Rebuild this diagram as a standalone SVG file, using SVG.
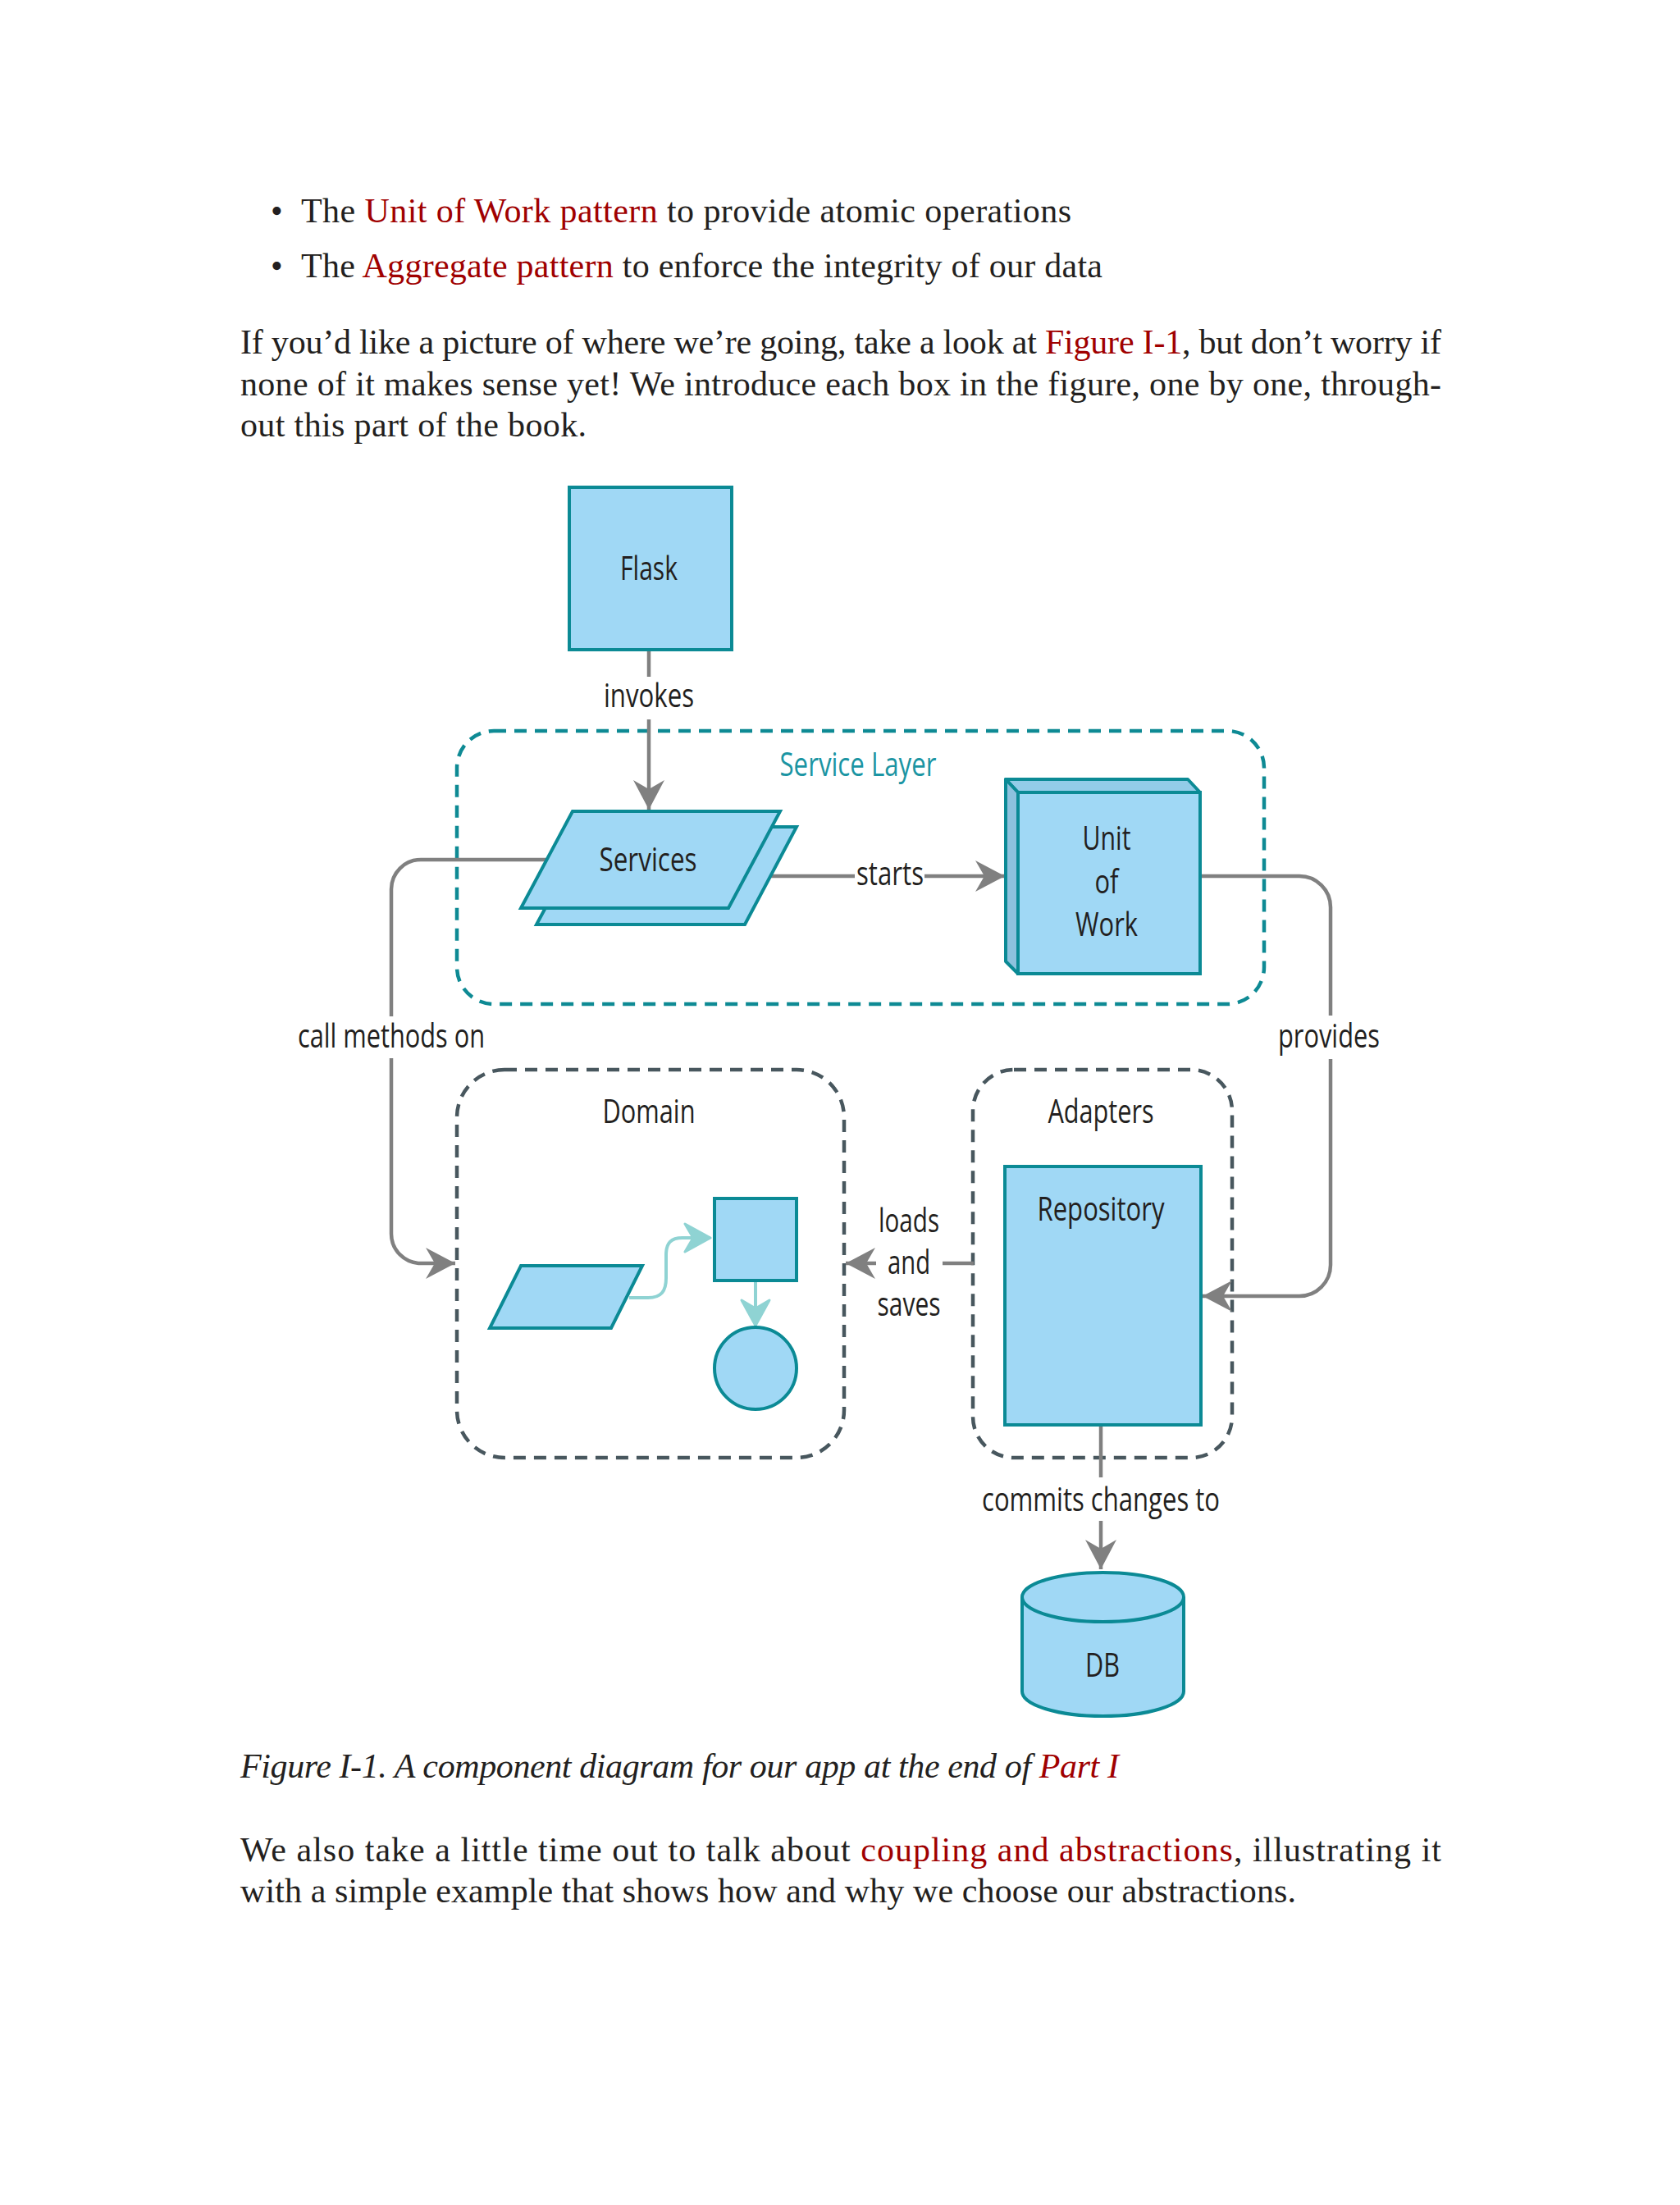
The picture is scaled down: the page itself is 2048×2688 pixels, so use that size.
<svg xmlns="http://www.w3.org/2000/svg" width="2048" height="2688" viewBox="0 0 2048 2688">
<style>
.body{font-family:"Liberation Serif","Times New Roman",serif;font-size:42px;fill:#231f20}
.it{font-style:italic}
.red{fill:#a00000}
.lbl{font-family:"Open Sans","Liberation Sans",sans-serif;font-size:40px;fill:#231f20;text-anchor:middle}
.node{fill:#a0d8f5;stroke:#0b8a95;stroke-width:4}
.conn{fill:none;stroke:#808080;stroke-width:4.5}
.connT{fill:none;stroke:#8fd3d3;stroke-width:4}
.dashT{fill:none;stroke:#0e8a94;stroke-width:4.5;stroke-dasharray:15 10}
.dashG{fill:none;stroke:#48575e;stroke-width:4.5;stroke-dasharray:15 10}
</style>
<defs>
<marker id="arr" viewBox="-38 -22 40 44" refX="0" refY="0" markerWidth="40" markerHeight="44" markerUnits="userSpaceOnUse" orient="auto">
<path d="M0,0 L-36,-19 L-25,0 L-36,19 Z" fill="#808080"/>
</marker>
<marker id="arrT" viewBox="-36 -22 40 44" refX="0" refY="0" markerWidth="40" markerHeight="44" markerUnits="userSpaceOnUse" orient="auto">
<path d="M0,0 L-31,-17 L-21,0 L-31,17 Z" fill="#8fd3d3" stroke="#8fd3d3" stroke-width="3" stroke-linejoin="round"/>
</marker>
</defs>
<rect width="2048" height="2688" fill="#ffffff"/>

<g id="text-top">
<text class="body" x="330" y="271">•</text>
<text class="body" x="367" y="271" textLength="939" lengthAdjust="spacing">The <tspan class="red">Unit of Work pattern</tspan> to provide atomic operations</text>
<text class="body" x="330" y="338">•</text>
<text class="body" x="367" y="338" textLength="977" lengthAdjust="spacing">The <tspan class="red">Aggregate pattern</tspan> to enforce the integrity of our data</text>
<text class="body" x="293" y="431" textLength="1464" lengthAdjust="spacing">If you’d like a picture of where we’re going, take a look at <tspan class="red">Figure I-1</tspan>, but don’t worry if</text>
<text class="body" x="293" y="482" textLength="1464" lengthAdjust="spacing">none of it makes sense yet! We introduce each box in the figure, one by one, through-</text>
<text class="body" x="293" y="532" textLength="422" lengthAdjust="spacing">out this part of the book.</text>
</g>

<g id="service-layer">
<rect class="dashT" x="557" y="891" width="984" height="333" rx="45"/>
<text class="lbl" x="1046" y="946" textLength="191" lengthAdjust="spacingAndGlyphs" style="fill:#1b95a3">Service Layer</text>
</g>
<g id="domain">
<rect class="dashG" x="557" y="1304" width="472" height="473" rx="58"/>
<text class="lbl" x="791" y="1369" textLength="113" lengthAdjust="spacingAndGlyphs">Domain</text>
</g>
<g id="adapters">
<rect class="dashG" x="1186" y="1304" width="316" height="473" rx="50"/>
<text class="lbl" x="1342" y="1369" textLength="129" lengthAdjust="spacingAndGlyphs">Adapters</text>
</g>

<g id="connectors">
<path class="conn" d="M791,792 L791,825"/>
<path class="conn" d="M791,877 L791,987" marker-end="url(#arr)"/>
<text class="lbl" x="791" y="862" textLength="110" lengthAdjust="spacingAndGlyphs">invokes</text>
<path class="conn" d="M939,1068 L1042,1068"/>
<path class="conn" d="M1127,1068 L1225,1068" marker-end="url(#arr)"/>
<text class="lbl" x="1085" y="1079" textLength="82" lengthAdjust="spacingAndGlyphs">starts</text>
<path class="conn" d="M666,1048 L513,1048 A36,36 0 0 0 477,1084 L477,1239"/>
<path class="conn" d="M477,1290 L477,1504 A36,36 0 0 0 513,1540 L555,1540" marker-end="url(#arr)"/>
<text class="lbl" x="477" y="1277" textLength="228" lengthAdjust="spacingAndGlyphs">call methods on</text>
<path class="conn" d="M1463,1068 L1584,1068 A38,38 0 0 1 1622,1106 L1622,1238"/>
<path class="conn" d="M1622,1291 L1622,1542 A38,38 0 0 1 1584,1580 L1466,1580" marker-end="url(#arr)"/>
<text class="lbl" x="1620" y="1277" textLength="124" lengthAdjust="spacingAndGlyphs">provides</text>
<path class="conn" d="M1187,1540 L1149,1540"/>
<path class="conn" d="M1068,1540 L1031,1540" marker-end="url(#arr)"/>
<text class="lbl" x="1108" y="1502" textLength="74" lengthAdjust="spacingAndGlyphs">loads</text>
<text class="lbl" x="1108" y="1553" textLength="52" lengthAdjust="spacingAndGlyphs">and</text>
<text class="lbl" x="1108" y="1604" textLength="77" lengthAdjust="spacingAndGlyphs">saves</text>
<path class="conn" d="M1342,1737 L1342,1801"/>
<path class="conn" d="M1342,1854 L1342,1913" marker-end="url(#arr)"/>
<text class="lbl" x="1342" y="1842" textLength="290" lengthAdjust="spacingAndGlyphs">commits changes to</text>
<path class="connT" d="M767,1582 L790,1582 C806,1582 812,1574 812,1558 L812,1530 C812,1515 818,1509 832,1509 L866,1509" marker-end="url(#arrT)"/>
<path class="connT" d="M921,1561 L921,1616" marker-end="url(#arrT)"/>
</g>

<g id="flask">
<rect class="node" x="694" y="594" width="198" height="198"/>
<text class="lbl" x="791" y="707" textLength="70" lengthAdjust="spacingAndGlyphs">Flask</text>
</g>

<g id="services">
<polygon class="node" points="718,1008 971,1008 908,1127 654,1127"/>
<polygon class="node" points="698,989 951,989 888,1107 635,1107"/>
<text class="lbl" x="790" y="1062" textLength="119" lengthAdjust="spacingAndGlyphs">Services</text>
</g>

<g id="unit-of-work">
<polygon points="1226,950 1448,950 1463,966 1241,966" fill="#93cce8" stroke="#0b8a95" stroke-width="4" stroke-linejoin="round"/>
<polygon points="1226,950 1241,966 1241,1187 1226,1172" fill="#8dc2de" stroke="#0b8a95" stroke-width="4" stroke-linejoin="round"/>
<rect class="node" x="1241" y="966" width="222" height="221"/>
<text class="lbl" x="1349" y="1036" textLength="59" lengthAdjust="spacingAndGlyphs">Unit</text>
<text class="lbl" x="1349" y="1089" textLength="29" lengthAdjust="spacingAndGlyphs">of</text>
<text class="lbl" x="1349" y="1141" textLength="76" lengthAdjust="spacingAndGlyphs">Work</text>
</g>

<g id="domain-shapes">
<polygon class="node" points="635,1543 783,1543 745,1619 597,1619"/>
<rect class="node" x="871" y="1461" width="100" height="100"/>
<circle class="node" cx="921" cy="1668" r="50"/>
</g>

<g id="repository">
<rect class="node" x="1225" y="1422" width="239" height="315"/>
<text class="lbl" x="1342" y="1488" textLength="155" lengthAdjust="spacingAndGlyphs">Repository</text>
</g>

<g id="db">
<path class="node" d="M1246,1947 L1246,2062 A98.5,30 0 0 0 1443,2062 L1443,1947"/>
<ellipse class="node" cx="1344.5" cy="1947" rx="98.5" ry="30"/>
<text class="lbl" x="1344" y="2044" textLength="42" lengthAdjust="spacingAndGlyphs">DB</text>
</g>

<g id="text-bottom">
<text class="body it" x="293" y="2167" textLength="1071" lengthAdjust="spacing">Figure I-1. A component diagram for our app at the end of <tspan class="red">Part I</tspan></text>
<text class="body" x="293" y="2269" textLength="1464" lengthAdjust="spacing">We also take a little time out to talk about <tspan class="red">coupling and abstractions</tspan>, illustrating it</text>
<text class="body" x="293" y="2319" textLength="1287" lengthAdjust="spacing">with a simple example that shows how and why we choose our abstractions.</text>
</g>
</svg>
